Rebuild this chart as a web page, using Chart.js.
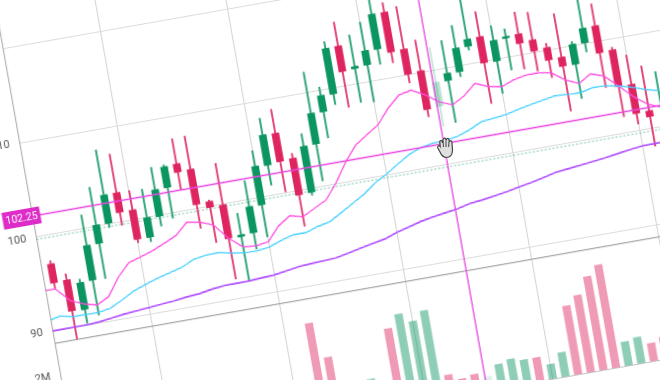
<!DOCTYPE html>
<html><head><meta charset="utf-8">
<style>
html,body{margin:0;padding:0;background:#fff;width:660px;height:380px;overflow:hidden}
#wrap{position:absolute;left:0;top:0;width:750px;height:520px;transform-origin:0 0;transform:rotate(-10deg) translate(-80px,-10px)}
#hand{position:absolute;left:435px;top:135px}
</style>
<script src="https://cdn.jsdelivr.net/npm/chart.js@4/dist/chart.umd.min.js"></script>
</head><body>
<div id="wrap"><canvas id="c" width="750" height="520"></canvas></div>
<svg id="hand" width="22" height="26" viewBox="0 0 22 26">
<path d="M5 9 C4 5 7 4 7.5 8 L8 5 C8.5 2.5 11 2.5 11 5.5 L11.5 4.5 C12.5 2.5 14.5 3.5 14 6 L14.5 6.5 C15.5 5 17.5 6 17 8.5 L17.5 15 C17.5 20 15 22.5 11.5 22.5 C8 22.5 6.5 20.5 5 17 L2.8 13 C2 11 4 10 5.2 11.5 Z" fill="#e0e0e0" stroke="#444" stroke-width="1.2"/>
<path d="M8 6 L8.5 12 M11 6 L11 12 M14 7 L13.6 12" stroke="#444" stroke-width="1" fill="none"/>
</svg>
<script>
const opens =[96.99,95.05,91.7,94.57,98.24,100.13,103.13,101.07,97.93,99.94,102.75,105,104.2,100.53,99.95,96.35,96.54,99.24,103.23,106.38,103.46,99.63,104.53,107.71,109.36,114.23,111.6,111.74,113.2,116.85,112.69,110.16,106.18,108.66,109.36,111.84,112.59,109.8,111.98,112.18,111.31,110.27,109.02,108.04,110.08,111.62,108.83,104.94,101.89,98.5];
const highs =[97.33,95.69,94.9,101.47,104.18,107.92,107.24,103.1,103.02,105.13,105.14,107.67,107.74,100.71,104.37,98.82,102.02,104.99,108.21,108.91,104.0,105.85,112.14,110.31,114.93,116.75,115.15,116.27,119.5,117.89,117.22,113.44,112.38,112.91,114.27,117.5,115.27,113.5,112.95,114.5,114.25,110.71,113.61,110.43,115.5,113.96,109.11,108.05,106.65,105.81];
const lows  =[94.4,88.68,90.22,90.86,94.52,99.7,99.7,97.6,97.47,98.88,99.48,102.25,97.93,96.18,92.08,91.66,94.8,95.85,101.11,100.17,96.28,99.33,100.6,104.96,108.25,107.72,108.0,107.83,111.6,111.51,109.14,105.3,104.07,104.23,108.84,111.43,105.53,106.35,108.6,108.47,108.04,107.09,103.31,104.4,109.12,105.07,101.75,100.73,98.16,97.2];
const closes=[95.0,91.78,94.53,98.24,100.17,103.12,101.06,97.96,100.01,102.75,104.94,104.14,100.48,99.93,96.41,96.55,99.28,103.35,106.42,103.37,99.58,104.52,107.79,109.42,114.2,111.51,111.8,113.26,116.88,112.63,110.06,106.08,108.71,109.43,111.86,112.58,109.85,111.98,112.14,111.19,110.16,108.94,108.06,110.14,111.61,108.78,105,101.87,101.28,100.4];
const volumes=[.4,.5,.35,.6,.5,.7,.45,.5,.4,.55,.5,.35,.6,.3,.7,.5,.6,.7,.8,2.18,1.35,.6,.5,.7,.5,1.75,2.03,1.82,2.01,.49,.35,.4,.3,.53,.6,.53,.53,.33,.55,1.56,1.75,2.13,2.34,.54,.59,.4,.5,.5,.4,.5];
const maFast=[94.34,94.34,92.86,92.27,91.92,92.58,94.39,95.71,96.1,96.5,97.05,97.65,98.82,98.58,98.07,96.4,95.26,95.13,95.33,96.77,97.62,97.27,97.93,98.58,100.17,102.1,103.69,104.55,105.38,106.9,108.06,108.34,107.63,106.64,106.08,106.8,107.89,107.3,107.06,107.54,107.81,107.83,107.59,106.6,105.99,106.77,106.31,105.01,103.64,102.6,102.06];
const maMid =[91.15,91.47,91.16,91.15,91.13,91.35,92.0,92.69,93.15,93.57,93.92,94.25,94.87,95.08,95.12,94.83,94.62,94.61,94.75,95.22,95.59,95.58,96.0,96.28,97.0,97.75,98.5,99.45,100.16,101.0,101.76,102.25,102.5,102.55,102.75,103.24,103.83,103.97,104.12,104.44,104.7,104.94,105.17,105.05,105.02,105.33,105.27,105.0,104.63,104.18,103.81];
const maSlow=[90.05,90.05,90.06,90.07,90.15,90.33,90.49,90.62,90.72,90.84,90.96,91.12,91.23,91.46,91.6,91.62,91.65,91.72,91.8,92.0,92.2,92.3,92.36,92.44,92.7,93.0,93.25,93.5,93.95,94.3,94.65,94.9,95.1,95.3,95.6,95.75,95.95,96.15,96.42,96.65,96.95,97.25,97.4,97.55,97.7,97.85,98.05,98.25,98.4,98.42,98.45];
const gridIdx=[7,17,27,37,47];
const priceTicks=[90,100,110,120];
const volTickM=[2];
const crossPrice=102.25, crossIndex=31.8, hoverIndex=32, lastPrice=99.78;

const GREEN='#0b9560', RED='#df2560';
const rgba=(hex,a)=>{const n=parseInt(hex.slice(1),16);return `rgba(${n>>16},${(n>>8)&255},${n&255},${a})`;};
const isUp=i=>closes[i]>=opens[i];
const col=(i,a)=>rgba(isUp(i)?GREEN:RED,i===hoverIndex?a*0.28:a);
const idx=opens.map((_,i)=>i);
const barBase={type:'bar',grouped:false,borderWidth:0,borderSkipped:false};
const lineDs=(arr,color,w)=>({type:'line',yAxisID:'y',data:arr.map((y,k)=>({x:k-1,y})),borderColor:color,borderWidth:w,pointRadius:0,tension:0,order:1});
const fitLeft=s=>{s.width=74.4;s.paddingTop=0;s.paddingBottom=0;};

const overlays={id:'overlays',
 beforeDatasetsDraw(ch){
  const {ctx,chartArea:a,scales:{y}}=ch;
  ctx.save();
  ctx.strokeStyle='#a8a8a8';ctx.lineWidth=1.2;
  ctx.beginPath();ctx.moveTo(a.left,y.bottom);ctx.lineTo(a.right,y.bottom);ctx.stroke();
  ctx.strokeStyle='rgba(11,149,96,.55)';ctx.lineWidth=1;ctx.setLineDash([2,2]);
  const p=y.getPixelForValue(lastPrice);
  ctx.beginPath();ctx.moveTo(a.left,p);ctx.lineTo(a.right,p);ctx.stroke();
  ctx.restore();
 },
 afterDatasetsDraw(ch){
  const {ctx,chartArea:a,scales:{x,y}}=ch;
  const py=y.getPixelForValue(crossPrice), px=x.getPixelForValue(crossIndex);
  ctx.save();
  ctx.strokeStyle='#ea48e2';ctx.lineWidth=1.3;
  ctx.beginPath();ctx.moveTo(a.left,py);ctx.lineTo(a.right,py);
  ctx.moveTo(px,a.top);ctx.lineTo(px,a.bottom);ctx.stroke();
  ctx.fillStyle='#dd2cc8';
  ctx.fillRect(a.left-30,py-8.5,38,17);
  ctx.fillStyle='#fff';ctx.font='10.5px Roboto';ctx.textAlign='center';ctx.textBaseline='middle';
  ctx.fillText(crossPrice.toFixed(2),a.left-11,py+0.5);
  ctx.restore();
 }};

new Chart(document.getElementById('c'),{
 data:{datasets:[
  {...barBase,label:'Volume',yAxisID:'v',order:5,barThickness:7.6,
   data:idx.map(i=>({x:i,y:[0,volumes[i]*1e6]})),
   backgroundColor:idx.map(i=>col(i,0.46))},
  {...barBase,label:'Wick',yAxisID:'y',order:4,barThickness:1.3,
   data:idx.map(i=>({x:i,y:[lows[i],highs[i]]})),
   backgroundColor:idx.map(i=>col(i,0.85))},
  {...barBase,label:'Body',yAxisID:'y',order:3,barThickness:7,
   data:idx.map(i=>({x:i,y:[opens[i],closes[i]]})),
   backgroundColor:idx.map(i=>col(i,1))},
  lineDs(maSlow,'#b04dff',1.6),
  lineDs(maMid,'#45d0ff',1.3),
  lineDs(maFast,'#ff4de4',1.3)
 ]},
 plugins:[overlays],
 options:{
  responsive:false,animation:false,devicePixelRatio:1,
  layout:{padding:{left:0,right:0,top:0,bottom:41}},
  plugins:{legend:{display:false},tooltip:{enabled:false}},
  scales:{
   x:{type:'linear',offset:false,min:-0.764,max:51.9,
      afterBuildTicks(s){s.ticks=gridIdx.map(value=>({value}));},
      afterFit(s){s.height=0;},
      ticks:{display:false},
      grid:{offset:false,color:'#d6d6d6',lineWidth:1.1,drawTicks:false},
      border:{display:true,color:'#c4c4c4'}},
   y:{position:'left',weight:1,stack:'main',stackWeight:357.6,min:88.745,max:126.15,
      afterBuildTicks(s){s.ticks=priceTicks.map(value=>({value}));},
      afterFit:fitLeft,
      ticks:{padding:10,font:{family:'Roboto',size:11},color:'#555',callback:v=>String(v)},
      grid:{color:'#dcdcdc',lineWidth:1.1,drawTicks:false},
      border:{display:true,color:'#b4b4b4',width:1.2}},
   v:{position:'left',weight:0,stack:'main',stackWeight:121.4,min:0,max:2728000,
      afterBuildTicks(s){s.ticks=volTickM.map(m=>({value:m*1e6}));},
      afterFit:fitLeft,
      ticks:{padding:10,font:{family:'Roboto',size:11},color:'#555',callback:v=>(v/1e6)+'M'},
      grid:{display:false,drawTicks:false},
      border:{display:true,color:'#b4b4b4',width:1.2}}
  }
 }
});
</script>
</body></html>
